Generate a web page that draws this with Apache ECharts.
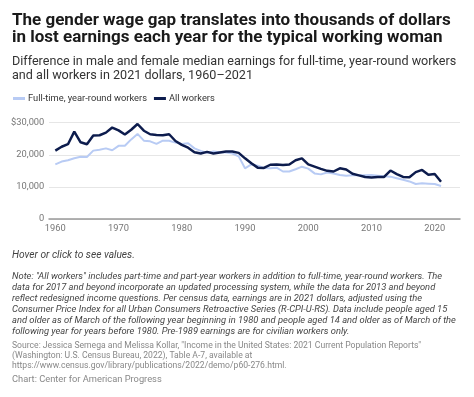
<!DOCTYPE html>
<html>
<head>
<meta charset="utf-8">
<script src="https://cdn.jsdelivr.net/npm/echarts@6/dist/echarts.min.js"></script>
<style>
html,body{margin:0;padding:0;background:#fff;}
#c{width:474px;height:397px;}
</style>
</head>
<body>
<div id="c"></div>
<script>
const years = [1960,1961,1962,1963,1964,1965,1966,1967,1968,1969,1970,1971,1972,1973,1974,1975,1976,1977,1978,1979,1980,1981,1982,1983,1984,1985,1986,1987,1988,1989,1990,1991,1992,1993,1994,1995,1996,1997,1998,1999,2000,2001,2002,2003,2004,2005,2006,2007,2008,2009,2010,2011,2012,2013,2014,2015,2016,2017,2018,2019,2020,2021];
const fullTime = [17000,17900,18300,18900,19400,19300,21300,21600,22000,21400,22800,22800,24800,26500,24400,24200,23400,24400,24400,23800,23400,23600,22000,21200,20600,21000,20800,20700,20400,19500,15800,17000,16600,15900,15800,16000,14800,14800,15500,16300,15700,14200,13900,14500,14200,13700,13500,13600,13600,13600,13700,13500,13300,13200,12700,12200,11700,10900,11100,11000,10900,10300];
const allWorkers = [21300,22500,23300,27200,23900,23300,26000,26100,26900,28500,27600,26300,27800,29600,27500,26400,26200,26100,26400,24300,23100,22200,20800,20400,20900,20400,20700,21000,21000,20600,18900,17400,16000,15900,16900,17000,16800,17000,18300,18900,17000,16300,15600,15000,14800,15800,15400,14100,13600,13100,12900,13100,13100,15100,14000,13100,13000,14600,15300,13800,14000,11600];
const seriesNames = ['Full-time, year-round workers','All workers'];
const xTicks = [1960,1970,1980,1990,2000,2010,2020];
const yTickLabels = {0:'0',10000:'10,000',20000:'20,000',30000:'$30,000'};

const titleText = 'The gender wage gap translates into thousands of dollars\nin lost earnings each year for the typical working woman';
const subtitleText = 'Difference in male and female median earnings for full-time, year-round workers\nand all workers in 2021 dollars, 1960\u20132021';
const hoverText = 'Hover or click to see values.';
const noteText = 'Note: "All workers" includes part-time and part-year workers in addition to full-time, year-round workers. The\ndata for 2017 and beyond incorporate an updated processing system, while the data for 2013 and beyond\nreflect redesigned income questions. Per census data, earnings are in 2021 dollars, adjusted using the\nConsumer Price Index for all Urban Consumers Retroactive Series (R-CPI-U-RS). Data include people aged 15\nand older as of March of the following year beginning in 1980 and people aged 14 and older as of March of the\nfollowing year for years before 1980. Pre-1989 earnings are for civilian workers only.';
const sourceText = 'Source: Jessica Semega and Melissa Kollar, "Income in the United States: 2021 Current Population Reports"\n(Washington: U.S. Census Bureau, 2022), Table A-7, available at\nhttps://www.census.gov/library/publications/2022/demo/p60-276.html.';
const creditText = 'Chart: Center for American Progress';

const FONT = 'Roboto, "Noto Sans", sans-serif';
const chart = echarts.init(document.getElementById('c'), null, {renderer:'canvas'});
chart.setOption({
  backgroundColor:'#fff',
  animation:false,
  textStyle:{fontFamily:FONT},
  title:[
    {text:titleText,left:12,top:12.4,padding:0,textStyle:{fontFamily:FONT,fontSize:17,fontWeight:'bold',color:'#1a1a1a',lineHeight:16.6}},
    {text:subtitleText,left:12,top:54.5,padding:0,textStyle:{fontFamily:FONT,fontSize:12.6,fontWeight:'normal',color:'#333',lineHeight:14.3}},
    {text:hoverText,left:12,top:249.7,padding:0,textStyle:{fontFamily:FONT,fontSize:10.2,fontStyle:'italic',fontWeight:'normal',color:'#444',lineHeight:12}},
    {text:noteText,left:12,top:271.5,padding:0,textStyle:{fontFamily:FONT,fontSize:9.35,fontStyle:'italic',fontWeight:'normal',color:'#444',lineHeight:11}},
    {text:sourceText,left:12,top:341,padding:0,textStyle:{fontFamily:FONT,fontSize:8.6,fontWeight:'normal',color:'#888',lineHeight:10}},
    {text:creditText,left:12,top:375,padding:0,textStyle:{fontFamily:FONT,fontSize:9.3,fontWeight:'normal',color:'#888',lineHeight:10}}
  ],
  legend:{
    left:13,top:94,padding:0,itemGap:7,itemWidth:12,itemHeight:3,icon:'rect',
    data:seriesNames,
    textStyle:{fontFamily:FONT,fontSize:9.3,color:'#333',padding:[0,0,0,-2]}
  },
  grid:{left:49,right:14,top:122.7,bottom:397-219,containLabel:false},
  xAxis:{
    type:'value',min:1959,max:2024,
    axisLine:{show:true,lineStyle:{color:'#999',width:1.5}},
    axisTick:{show:false},
    splitLine:{show:false},
    axisLabel:{customValues:xTicks,margin:5,fontSize:9.3,color:'#777',fontFamily:FONT,formatter:v=>String(v)}
  },
  yAxis:{
    type:'value',min:0,max:30000,interval:10000,
    axisLine:{show:false},axisTick:{show:false},
    splitLine:{show:true,lineStyle:{color:'#e6e6e6',width:1}},
    axisLabel:{margin:4.7,fontSize:9.3,color:'#777',fontFamily:FONT,formatter:v=>yTickLabels[v]}
  },
  series:[
    {name:seriesNames[0],type:'line',symbol:'none',z:2,
     data:years.map((y,i)=>[y,fullTime[i]]),
     lineStyle:{color:'#b8cbf4',width:2},itemStyle:{color:'#b8cbf4'}},
    {name:seriesNames[1],type:'line',symbol:'none',z:3,
     data:years.map((y,i)=>[y,allWorkers[i]]),
     lineStyle:{color:'#0d1c4d',width:2.5},itemStyle:{color:'#0d1c4d'}}
  ]
});
</script>
</body>
</html>
